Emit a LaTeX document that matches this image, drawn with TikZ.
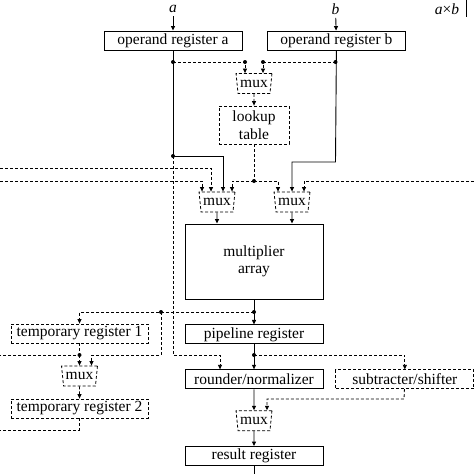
\documentclass[tikz,border=0pt]{standalone}
\usepackage{fontspec}
\setmainfont{Liberation Serif}
\usetikzlibrary{positioning, arrows.meta, shapes.geometric}

\begin{document}
\begin{tikzpicture}[
    x=1pt, y=-1pt,
    font=\fontsize{15.5}{17.5}\selectfont,
    sline/.style={line width=0.9pt},
    dline/.style={line width=0.8pt, dash pattern=on 3pt off 2pt},
    reg/.style={rectangle, draw, sline, minimum height=19pt, minimum width=138pt, inner sep=0pt},
    dreg/.style={reg, dline},
    muxbox/.style={trapezium, draw, dline, shape border rotate=180, trapezium stretches=true, trapezium angle=77, minimum width=36pt, minimum height=20pt, inner sep=0pt},
    arrow/.style={-{Triangle[length=4.5pt, width=4pt]}},
    junction/.style={fill, circle, radius=2pt}
]
\useasboundingbox (0,0) rectangle (474,474);

% Inputs
\node (a) at (173,9) {\textit{a}};
\node (b) at (335.5,9) {\textit{b}};
\node (prod) at (447,9) {\textit{a}×\textit{b}};

% Nodes
\node (regA) [reg] at (173,40.5) {operand register a};
\node (regB) [reg, right=24.5pt of regA] {operand register b};
\node (mux0) [muxbox] at (254,83.5) {mux};
\node (lut) [dreg, minimum width=70pt, minimum height=38pt, align=center] at (254,125) {lookup\\table};
\node (mux1) [muxbox] at (217,202) {mux};
\node (mux2) [muxbox] at (292,202) {mux};
\node (mult) [reg, minimum height=75pt, align=center] at (254,261.5) {multiplier\\array};
\node (pipe) [reg, below=25pt of mult] {pipeline register};
\node (round) [reg, below=25pt of pipe] {rounder/normalizer};
\node (subsh) [dreg, right=12pt of round] {subtracter/shifter};
\node (tmp1) [dreg, minimum width=137pt] at (79.5,333.5) {temporary register 1};
\node (mux3) [muxbox] at (79.5,376) {mux};
\node (tmp2) [dreg, minimum width=137pt] at (79.5,408.5) {temporary register 2};
\node (mux4) [muxbox, below=21pt of round] {mux};
\node (res) [reg, below=15pt of mux4] {result register};

% Junctions and free ends
\coordinate (ja) at (173,62);
\coordinate (jal) at (245,62);
\coordinate (jar) at (263,62);
\coordinate (jc) at (335.5,62);
\coordinate (jb) at (173,156);
\coordinate (jd) at (335.5,162);
\coordinate (jl) at (254,181);
\coordinate (jm) at (254,312);
\coordinate (jt) at (161,312);
\coordinate (jt2) at (161,355);
\coordinate (jq) at (173,355);
\coordinate (jr) at (79.5,355);
\coordinate (jp) at (254,355);
\coordinate (js) at (404,399);
\coordinate (jw) at (79.5,430);
\coordinate (w1) at (0,168);
\coordinate (w2) at (0,181);
\coordinate (w3) at (0,355);
\coordinate (w4) at (0,430);
\coordinate (e1) at (474,181);
\coordinate (s1) at (254,474);
\coordinate (bar1) at (466,0);
\coordinate (bar2) at (466,17);

% Arrows
\draw [sline] (bar1) -- (bar2);
\draw [sline, arrow] (a) -- (regA);
\draw [sline, arrow] (b) -- (regB);
\draw [sline, arrow] (regA.south) -- (jb) -| ([xshift=6pt]mux1.north);
\draw [sline, arrow] (regB.south) -- (jd) -| (mux2.north);
\draw [dline, arrow] (ja) -- (jal) -- (mux0.north -| jal);
\draw [dline, arrow] (jc) -- (jar) -- (mux0.north -| jar);
\draw [dline, arrow] (mux0) -- (lut);
\draw [dline] (lut) -- (jl);
\draw [dline, arrow] (jl) -| ([xshift=15pt]mux1.north);
\draw [dline, arrow] (jl) -| ([xshift=-14pt]mux2.north);
\draw [dline, arrow] (w1) -| ([xshift=-6pt]mux1.north);
\draw [dline, arrow] (w2) -| ([xshift=-15pt]mux1.north);
\draw [dline, arrow] (e1) -| ([xshift=12pt]mux2.north);
\draw [sline, arrow] (mux1) -- (mux1 |- mult.north);
\draw [sline, arrow] (mux2) -- (mux2 |- mult.north);
\draw [sline, arrow] (mult) -- (pipe);
\draw [dline, arrow] (jm) -| (tmp1.north);
\draw [dline, arrow] (jt) -- (jt2) -| ([xshift=12pt]mux3.north);
\draw [dline] (tmp1) -- (jr) -- (w3);
\draw [dline, arrow] (jr) -- (mux3);
\draw [dline, arrow] (mux3) -- (tmp2);
\draw [dline] (tmp2) -- (jw) -- (w4);
\draw [dline, arrow] (jb) -- (jq) -| ([xshift=-34pt]round.north);
\draw [sline, arrow] (pipe) -- (round);
\draw [dline, arrow] (jp) -| (subsh.north);
\draw [sline, arrow] (round) -- (mux4);
\draw [dline, arrow] (subsh) -- (js) -| ([xshift=13pt]mux4.north);
\draw [sline, arrow] (mux4) -- (res);
\draw [sline] (res) -- (s1);

% Dots
\foreach \j in {ja, jal, jar, jc, jb, jl, jm, jt, jr, jp}
    \fill (\j) circle (2pt);

\end{tikzpicture}
\end{document}
